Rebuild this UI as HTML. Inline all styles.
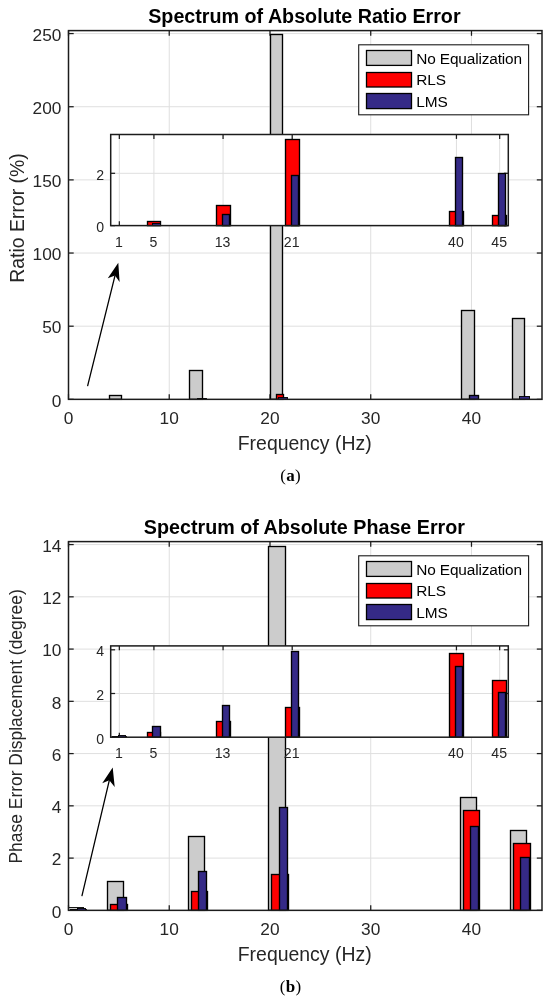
<!DOCTYPE html>
<html lang="en">
<head>
<meta charset="utf-8">
<title>Spectrum of Absolute Ratio and Phase Error</title>
<style>
html,body{margin:0;padding:0;background:#ffffff;}
body{width:550px;height:1000px;overflow:hidden;}
svg{display:block;font-family:"Liberation Sans",sans-serif;}
</style>
</head>
<body>
<svg width="550" height="1000" viewBox="0 0 550 1000" role="img" aria-label="Spectrum of absolute ratio error and phase error">
<rect x="0" y="0" width="550" height="1000" fill="#ffffff"/>
<g>
<line x1="169.24" y1="30.6" x2="169.24" y2="399.35" stroke="#dfdfdf" stroke-width="1"/>
<line x1="269.99" y1="30.6" x2="269.99" y2="399.35" stroke="#dfdfdf" stroke-width="1"/>
<line x1="370.73" y1="30.6" x2="370.73" y2="399.35" stroke="#dfdfdf" stroke-width="1"/>
<line x1="471.48" y1="30.6" x2="471.48" y2="399.35" stroke="#dfdfdf" stroke-width="1"/>
<line x1="68.5" y1="326.2" x2="542" y2="326.2" stroke="#dfdfdf" stroke-width="1"/>
<line x1="68.5" y1="253.04" x2="542" y2="253.04" stroke="#dfdfdf" stroke-width="1"/>
<line x1="68.5" y1="179.89" x2="542" y2="179.89" stroke="#dfdfdf" stroke-width="1"/>
<line x1="68.5" y1="106.73" x2="542" y2="106.73" stroke="#dfdfdf" stroke-width="1"/>
<line x1="68.5" y1="33.57" x2="542" y2="33.57" stroke="#dfdfdf" stroke-width="1"/>
<line x1="68.5" y1="399.35" x2="68.5" y2="394.15" stroke="#1c1c1c" stroke-width="1.25"/>
<line x1="68.5" y1="30.6" x2="68.5" y2="35.8" stroke="#1c1c1c" stroke-width="1.25"/>
<line x1="169.24" y1="399.35" x2="169.24" y2="394.15" stroke="#1c1c1c" stroke-width="1.25"/>
<line x1="169.24" y1="30.6" x2="169.24" y2="35.8" stroke="#1c1c1c" stroke-width="1.25"/>
<line x1="269.99" y1="399.35" x2="269.99" y2="394.15" stroke="#1c1c1c" stroke-width="1.25"/>
<line x1="269.99" y1="30.6" x2="269.99" y2="35.8" stroke="#1c1c1c" stroke-width="1.25"/>
<line x1="370.73" y1="399.35" x2="370.73" y2="394.15" stroke="#1c1c1c" stroke-width="1.25"/>
<line x1="370.73" y1="30.6" x2="370.73" y2="35.8" stroke="#1c1c1c" stroke-width="1.25"/>
<line x1="471.48" y1="399.35" x2="471.48" y2="394.15" stroke="#1c1c1c" stroke-width="1.25"/>
<line x1="471.48" y1="30.6" x2="471.48" y2="35.8" stroke="#1c1c1c" stroke-width="1.25"/>
<line x1="68.5" y1="399.35" x2="73.7" y2="399.35" stroke="#1c1c1c" stroke-width="1.25"/>
<line x1="542" y1="399.35" x2="536.8" y2="399.35" stroke="#1c1c1c" stroke-width="1.25"/>
<line x1="68.5" y1="326.2" x2="73.7" y2="326.2" stroke="#1c1c1c" stroke-width="1.25"/>
<line x1="542" y1="326.2" x2="536.8" y2="326.2" stroke="#1c1c1c" stroke-width="1.25"/>
<line x1="68.5" y1="253.04" x2="73.7" y2="253.04" stroke="#1c1c1c" stroke-width="1.25"/>
<line x1="542" y1="253.04" x2="536.8" y2="253.04" stroke="#1c1c1c" stroke-width="1.25"/>
<line x1="68.5" y1="179.89" x2="73.7" y2="179.89" stroke="#1c1c1c" stroke-width="1.25"/>
<line x1="542" y1="179.89" x2="536.8" y2="179.89" stroke="#1c1c1c" stroke-width="1.25"/>
<line x1="68.5" y1="106.73" x2="73.7" y2="106.73" stroke="#1c1c1c" stroke-width="1.25"/>
<line x1="542" y1="106.73" x2="536.8" y2="106.73" stroke="#1c1c1c" stroke-width="1.25"/>
<line x1="68.5" y1="33.57" x2="73.7" y2="33.57" stroke="#1c1c1c" stroke-width="1.25"/>
<line x1="542" y1="33.57" x2="536.8" y2="33.57" stroke="#1c1c1c" stroke-width="1.25"/>
<rect x="109.5" y="395.5" width="12" height="3.85" fill="#cccccc" stroke="#000000" stroke-width="1.35"/>
<rect x="189.5" y="370.5" width="13" height="28.85" fill="#cccccc" stroke="#000000" stroke-width="1.35"/>
<rect x="270.5" y="34.5" width="12" height="364.85" fill="#cccccc" stroke="#000000" stroke-width="1.35"/>
<rect x="461.5" y="310.5" width="13" height="88.85" fill="#cccccc" stroke="#000000" stroke-width="1.35"/>
<rect x="512.5" y="318.5" width="12" height="80.85" fill="#cccccc" stroke="#000000" stroke-width="1.35"/>
<rect x="276.5" y="394.5" width="7" height="4.85" fill="#ff0000" stroke="#000000" stroke-width="1.35"/>
<rect x="197.5" y="398.5" width="9" height="0.85" fill="#352a87" stroke="#000000" stroke-width="0.9"/>
<rect x="278.5" y="397.5" width="9" height="1.85" fill="#352a87" stroke="#000000" stroke-width="0.9"/>
<rect x="469.5" y="395.5" width="9" height="3.85" fill="#352a87" stroke="#000000" stroke-width="1.35"/>
<rect x="519.5" y="396.5" width="10" height="2.85" fill="#352a87" stroke="#000000" stroke-width="0.9"/>
<rect x="68.5" y="30.6" width="473.5" height="368.75" fill="none" stroke="#1c1c1c" stroke-width="1.5"/>
<text x="68.5" y="424.35" font-size="17.3" text-anchor="middle" fill="#262626">0</text>
<text x="169.24" y="424.35" font-size="17.3" text-anchor="middle" fill="#262626">10</text>
<text x="269.99" y="424.35" font-size="17.3" text-anchor="middle" fill="#262626">20</text>
<text x="370.73" y="424.35" font-size="17.3" text-anchor="middle" fill="#262626">30</text>
<text x="471.48" y="424.35" font-size="17.3" text-anchor="middle" fill="#262626">40</text>
<text x="61.4" y="406.55" font-size="17.3" text-anchor="end" fill="#262626">0</text>
<text x="61.4" y="333.4" font-size="17.3" text-anchor="end" fill="#262626">50</text>
<text x="61.4" y="260.24" font-size="17.3" text-anchor="end" fill="#262626">100</text>
<text x="61.4" y="187.09" font-size="17.3" text-anchor="end" fill="#262626">150</text>
<text x="61.4" y="113.93" font-size="17.3" text-anchor="end" fill="#262626">200</text>
<text x="61.4" y="40.77" font-size="17.3" text-anchor="end" fill="#262626">250</text>
<text x="304.4" y="22.6" font-size="19.72" text-anchor="middle" font-weight="bold" fill="#000000">Spectrum of Absolute Ratio Error</text>
<text x="304.7" y="450.15" font-size="19.46" text-anchor="middle" fill="#262626">Frequency (Hz)</text>
<text x="0" y="0" font-size="19.46" text-anchor="middle" fill="#262626" transform="translate(23.5 217.98) rotate(-90)">Ratio Error (%)</text>
<rect x="358.7" y="44.8" width="169.9" height="70" fill="#ffffff" stroke="#1a1a1a" stroke-width="1.1"/>
<rect x="366.5" y="50.5" width="45" height="14.9" fill="#cccccc" stroke="#000000" stroke-width="1.3"/>
<text x="416.3" y="63.8" font-size="15.4" text-anchor="start" fill="#000000" letter-spacing="-0.15">No Equalization</text>
<rect x="366.5" y="72.5" width="45" height="14.5" fill="#ff0000" stroke="#000000" stroke-width="1.3"/>
<text x="416.3" y="85.4" font-size="15.4" text-anchor="start" fill="#000000" letter-spacing="-0.15">RLS</text>
<rect x="366.5" y="93.5" width="45" height="15.1" fill="#352a87" stroke="#000000" stroke-width="1.3"/>
<text x="416.3" y="107" font-size="15.4" text-anchor="start" fill="#000000" letter-spacing="-0.15">LMS</text>
<rect x="110.7" y="134.5" width="397.6" height="91.1" fill="#ffffff"/>
<line x1="119.34" y1="134.5" x2="119.34" y2="225.6" stroke="#dfdfdf" stroke-width="1"/>
<line x1="153.92" y1="134.5" x2="153.92" y2="225.6" stroke="#dfdfdf" stroke-width="1"/>
<line x1="223.07" y1="134.5" x2="223.07" y2="225.6" stroke="#dfdfdf" stroke-width="1"/>
<line x1="292.21" y1="134.5" x2="292.21" y2="225.6" stroke="#dfdfdf" stroke-width="1"/>
<line x1="456.44" y1="134.5" x2="456.44" y2="225.6" stroke="#dfdfdf" stroke-width="1"/>
<line x1="499.66" y1="134.5" x2="499.66" y2="225.6" stroke="#dfdfdf" stroke-width="1"/>
<line x1="110.7" y1="173.3" x2="508.3" y2="173.3" stroke="#dfdfdf" stroke-width="1"/>
<line x1="119.34" y1="225.6" x2="119.34" y2="221.2" stroke="#1c1c1c" stroke-width="1.25"/>
<line x1="119.34" y1="134.5" x2="119.34" y2="138.9" stroke="#1c1c1c" stroke-width="1.25"/>
<line x1="153.92" y1="225.6" x2="153.92" y2="221.2" stroke="#1c1c1c" stroke-width="1.25"/>
<line x1="153.92" y1="134.5" x2="153.92" y2="138.9" stroke="#1c1c1c" stroke-width="1.25"/>
<line x1="223.07" y1="225.6" x2="223.07" y2="221.2" stroke="#1c1c1c" stroke-width="1.25"/>
<line x1="223.07" y1="134.5" x2="223.07" y2="138.9" stroke="#1c1c1c" stroke-width="1.25"/>
<line x1="292.21" y1="225.6" x2="292.21" y2="221.2" stroke="#1c1c1c" stroke-width="1.25"/>
<line x1="292.21" y1="134.5" x2="292.21" y2="138.9" stroke="#1c1c1c" stroke-width="1.25"/>
<line x1="456.44" y1="225.6" x2="456.44" y2="221.2" stroke="#1c1c1c" stroke-width="1.25"/>
<line x1="456.44" y1="134.5" x2="456.44" y2="138.9" stroke="#1c1c1c" stroke-width="1.25"/>
<line x1="499.66" y1="225.6" x2="499.66" y2="221.2" stroke="#1c1c1c" stroke-width="1.25"/>
<line x1="499.66" y1="134.5" x2="499.66" y2="138.9" stroke="#1c1c1c" stroke-width="1.25"/>
<line x1="110.7" y1="225.6" x2="115.1" y2="225.6" stroke="#1c1c1c" stroke-width="1.25"/>
<line x1="508.3" y1="225.6" x2="503.9" y2="225.6" stroke="#1c1c1c" stroke-width="1.25"/>
<line x1="110.7" y1="173.3" x2="115.1" y2="173.3" stroke="#1c1c1c" stroke-width="1.25"/>
<line x1="508.3" y1="173.3" x2="503.9" y2="173.3" stroke="#1c1c1c" stroke-width="1.25"/>
<rect x="147.5" y="221.5" width="13" height="4.1" fill="#ff0000" stroke="#000000" stroke-width="1.35"/>
<rect x="216.5" y="205.5" width="14" height="20.1" fill="#ff0000" stroke="#000000" stroke-width="1.35"/>
<rect x="285.5" y="139.5" width="14" height="86.1" fill="#ff0000" stroke="#000000" stroke-width="1.35"/>
<rect x="449.5" y="211.5" width="14" height="14.1" fill="#ff0000" stroke="#000000" stroke-width="1.35"/>
<rect x="492.5" y="215.5" width="14" height="10.1" fill="#ff0000" stroke="#000000" stroke-width="1.35"/>
<rect x="152.5" y="223.5" width="8" height="2.1" fill="#352a87" stroke="#000000" stroke-width="0.9"/>
<rect x="222.5" y="214.5" width="7" height="11.1" fill="#352a87" stroke="#000000" stroke-width="1.35"/>
<rect x="291.5" y="175.5" width="7" height="50.1" fill="#352a87" stroke="#000000" stroke-width="1.35"/>
<rect x="455.5" y="157.5" width="7" height="68.1" fill="#352a87" stroke="#000000" stroke-width="1.35"/>
<rect x="498.5" y="173.5" width="7" height="52.1" fill="#352a87" stroke="#000000" stroke-width="1.35"/>
<rect x="110.7" y="134.5" width="397.6" height="91.1" fill="none" stroke="#1c1c1c" stroke-width="1.5"/>
<text x="118.84" y="246.6" font-size="14.1" text-anchor="middle" fill="#262626">1</text>
<text x="153.42" y="246.6" font-size="14.1" text-anchor="middle" fill="#262626">5</text>
<text x="222.57" y="246.6" font-size="14.1" text-anchor="middle" fill="#262626">13</text>
<text x="291.71" y="246.6" font-size="14.1" text-anchor="middle" fill="#262626">21</text>
<text x="455.94" y="246.6" font-size="14.1" text-anchor="middle" fill="#262626">40</text>
<text x="499.16" y="246.6" font-size="14.1" text-anchor="middle" fill="#262626">45</text>
<text x="104.2" y="232" font-size="14.1" text-anchor="end" fill="#262626">0</text>
<text x="104.2" y="179.7" font-size="14.1" text-anchor="end" fill="#262626">2</text>
<line x1="87.7" y1="385.7" x2="115" y2="275.6" stroke="#000000" stroke-width="1.3" stroke-linecap="round"/>
<polygon points="118.3,262.7 107.8,278.2 115,275.6 119.6,282" fill="#000000"/>
<text x="290.6" y="480.95" font-family="'Liberation Serif', 'DejaVu Serif', serif" font-size="17" letter-spacing="0.3" text-anchor="middle" fill="#000000">(<tspan font-weight="bold">a</tspan>)</text>
</g>
<g>
<line x1="169.24" y1="541.6" x2="169.24" y2="910.35" stroke="#dfdfdf" stroke-width="1"/>
<line x1="269.99" y1="541.6" x2="269.99" y2="910.35" stroke="#dfdfdf" stroke-width="1"/>
<line x1="370.73" y1="541.6" x2="370.73" y2="910.35" stroke="#dfdfdf" stroke-width="1"/>
<line x1="471.48" y1="541.6" x2="471.48" y2="910.35" stroke="#dfdfdf" stroke-width="1"/>
<line x1="68.5" y1="858.1" x2="542" y2="858.1" stroke="#dfdfdf" stroke-width="1"/>
<line x1="68.5" y1="805.84" x2="542" y2="805.84" stroke="#dfdfdf" stroke-width="1"/>
<line x1="68.5" y1="753.59" x2="542" y2="753.59" stroke="#dfdfdf" stroke-width="1"/>
<line x1="68.5" y1="701.33" x2="542" y2="701.33" stroke="#dfdfdf" stroke-width="1"/>
<line x1="68.5" y1="649.08" x2="542" y2="649.08" stroke="#dfdfdf" stroke-width="1"/>
<line x1="68.5" y1="596.83" x2="542" y2="596.83" stroke="#dfdfdf" stroke-width="1"/>
<line x1="68.5" y1="544.57" x2="542" y2="544.57" stroke="#dfdfdf" stroke-width="1"/>
<line x1="68.5" y1="910.35" x2="68.5" y2="905.15" stroke="#1c1c1c" stroke-width="1.25"/>
<line x1="68.5" y1="541.6" x2="68.5" y2="546.8" stroke="#1c1c1c" stroke-width="1.25"/>
<line x1="169.24" y1="910.35" x2="169.24" y2="905.15" stroke="#1c1c1c" stroke-width="1.25"/>
<line x1="169.24" y1="541.6" x2="169.24" y2="546.8" stroke="#1c1c1c" stroke-width="1.25"/>
<line x1="269.99" y1="910.35" x2="269.99" y2="905.15" stroke="#1c1c1c" stroke-width="1.25"/>
<line x1="269.99" y1="541.6" x2="269.99" y2="546.8" stroke="#1c1c1c" stroke-width="1.25"/>
<line x1="370.73" y1="910.35" x2="370.73" y2="905.15" stroke="#1c1c1c" stroke-width="1.25"/>
<line x1="370.73" y1="541.6" x2="370.73" y2="546.8" stroke="#1c1c1c" stroke-width="1.25"/>
<line x1="471.48" y1="910.35" x2="471.48" y2="905.15" stroke="#1c1c1c" stroke-width="1.25"/>
<line x1="471.48" y1="541.6" x2="471.48" y2="546.8" stroke="#1c1c1c" stroke-width="1.25"/>
<line x1="68.5" y1="910.35" x2="73.7" y2="910.35" stroke="#1c1c1c" stroke-width="1.25"/>
<line x1="542" y1="910.35" x2="536.8" y2="910.35" stroke="#1c1c1c" stroke-width="1.25"/>
<line x1="68.5" y1="858.1" x2="73.7" y2="858.1" stroke="#1c1c1c" stroke-width="1.25"/>
<line x1="542" y1="858.1" x2="536.8" y2="858.1" stroke="#1c1c1c" stroke-width="1.25"/>
<line x1="68.5" y1="805.84" x2="73.7" y2="805.84" stroke="#1c1c1c" stroke-width="1.25"/>
<line x1="542" y1="805.84" x2="536.8" y2="805.84" stroke="#1c1c1c" stroke-width="1.25"/>
<line x1="68.5" y1="753.59" x2="73.7" y2="753.59" stroke="#1c1c1c" stroke-width="1.25"/>
<line x1="542" y1="753.59" x2="536.8" y2="753.59" stroke="#1c1c1c" stroke-width="1.25"/>
<line x1="68.5" y1="701.33" x2="73.7" y2="701.33" stroke="#1c1c1c" stroke-width="1.25"/>
<line x1="542" y1="701.33" x2="536.8" y2="701.33" stroke="#1c1c1c" stroke-width="1.25"/>
<line x1="68.5" y1="649.08" x2="73.7" y2="649.08" stroke="#1c1c1c" stroke-width="1.25"/>
<line x1="542" y1="649.08" x2="536.8" y2="649.08" stroke="#1c1c1c" stroke-width="1.25"/>
<line x1="68.5" y1="596.83" x2="73.7" y2="596.83" stroke="#1c1c1c" stroke-width="1.25"/>
<line x1="542" y1="596.83" x2="536.8" y2="596.83" stroke="#1c1c1c" stroke-width="1.25"/>
<line x1="68.5" y1="544.57" x2="73.7" y2="544.57" stroke="#1c1c1c" stroke-width="1.25"/>
<line x1="542" y1="544.57" x2="536.8" y2="544.57" stroke="#1c1c1c" stroke-width="1.25"/>
<rect x="68.5" y="907.5" width="15" height="2.85" fill="#cccccc" stroke="#000000" stroke-width="0.9"/>
<rect x="107.5" y="881.5" width="16" height="28.85" fill="#cccccc" stroke="#000000" stroke-width="1.35"/>
<rect x="188.5" y="836.5" width="16" height="73.85" fill="#cccccc" stroke="#000000" stroke-width="1.35"/>
<rect x="268.5" y="546.5" width="17" height="363.85" fill="#cccccc" stroke="#000000" stroke-width="1.35"/>
<rect x="460.5" y="797.5" width="16" height="112.85" fill="#cccccc" stroke="#000000" stroke-width="1.35"/>
<rect x="510.5" y="830.5" width="16" height="79.85" fill="#cccccc" stroke="#000000" stroke-width="1.35"/>
<rect x="70.5" y="909.5" width="16" height="0.85" fill="#ff0000" stroke="#000000" stroke-width="0.9"/>
<rect x="110.5" y="904.5" width="17" height="5.85" fill="#ff0000" stroke="#000000" stroke-width="1.35"/>
<rect x="191.5" y="891.5" width="16" height="18.85" fill="#ff0000" stroke="#000000" stroke-width="1.35"/>
<rect x="271.5" y="874.5" width="17" height="35.85" fill="#ff0000" stroke="#000000" stroke-width="1.35"/>
<rect x="463.5" y="810.5" width="16" height="99.85" fill="#ff0000" stroke="#000000" stroke-width="1.35"/>
<rect x="513.5" y="843.5" width="17" height="66.85" fill="#ff0000" stroke="#000000" stroke-width="1.35"/>
<rect x="77.5" y="908.5" width="8" height="1.85" fill="#352a87" stroke="#000000" stroke-width="0.9"/>
<rect x="117.5" y="897.5" width="9" height="12.85" fill="#352a87" stroke="#000000" stroke-width="1.35"/>
<rect x="198.5" y="871.5" width="8" height="38.85" fill="#352a87" stroke="#000000" stroke-width="1.35"/>
<rect x="279.5" y="807.5" width="8" height="102.85" fill="#352a87" stroke="#000000" stroke-width="1.35"/>
<rect x="470.5" y="826.5" width="8" height="83.85" fill="#352a87" stroke="#000000" stroke-width="1.35"/>
<rect x="520.5" y="857.5" width="9" height="52.85" fill="#352a87" stroke="#000000" stroke-width="1.35"/>
<rect x="68.5" y="541.6" width="473.5" height="368.75" fill="none" stroke="#1c1c1c" stroke-width="1.5"/>
<text x="68.5" y="935.35" font-size="17.3" text-anchor="middle" fill="#262626">0</text>
<text x="169.24" y="935.35" font-size="17.3" text-anchor="middle" fill="#262626">10</text>
<text x="269.99" y="935.35" font-size="17.3" text-anchor="middle" fill="#262626">20</text>
<text x="370.73" y="935.35" font-size="17.3" text-anchor="middle" fill="#262626">30</text>
<text x="471.48" y="935.35" font-size="17.3" text-anchor="middle" fill="#262626">40</text>
<text x="61.4" y="917.55" font-size="17.3" text-anchor="end" fill="#262626">0</text>
<text x="61.4" y="865.3" font-size="17.3" text-anchor="end" fill="#262626">2</text>
<text x="61.4" y="813.04" font-size="17.3" text-anchor="end" fill="#262626">4</text>
<text x="61.4" y="760.79" font-size="17.3" text-anchor="end" fill="#262626">6</text>
<text x="61.4" y="708.53" font-size="17.3" text-anchor="end" fill="#262626">8</text>
<text x="61.4" y="656.28" font-size="17.3" text-anchor="end" fill="#262626">10</text>
<text x="61.4" y="604.03" font-size="17.3" text-anchor="end" fill="#262626">12</text>
<text x="61.4" y="551.77" font-size="17.3" text-anchor="end" fill="#262626">14</text>
<text x="304.4" y="533.6" font-size="19.72" text-anchor="middle" font-weight="bold" fill="#000000">Spectrum of Absolute Phase Error</text>
<text x="304.7" y="961.15" font-size="19.46" text-anchor="middle" fill="#262626">Frequency (Hz)</text>
<text x="0" y="0" font-size="17.45" text-anchor="middle" fill="#262626" transform="translate(22.4 726.38) rotate(-90)">Phase Error Displacement (degree)</text>
<rect x="358.7" y="555.8" width="169.9" height="70" fill="#ffffff" stroke="#1a1a1a" stroke-width="1.1"/>
<rect x="366.5" y="561.5" width="45" height="14.9" fill="#cccccc" stroke="#000000" stroke-width="1.3"/>
<text x="416.3" y="574.8" font-size="15.4" text-anchor="start" fill="#000000" letter-spacing="-0.15">No Equalization</text>
<rect x="366.5" y="583.5" width="45" height="14.5" fill="#ff0000" stroke="#000000" stroke-width="1.3"/>
<text x="416.3" y="596.4" font-size="15.4" text-anchor="start" fill="#000000" letter-spacing="-0.15">RLS</text>
<rect x="366.5" y="604.5" width="45" height="15.1" fill="#352a87" stroke="#000000" stroke-width="1.3"/>
<text x="416.3" y="618" font-size="15.4" text-anchor="start" fill="#000000" letter-spacing="-0.15">LMS</text>
<rect x="110.7" y="645.9" width="397.6" height="91.3" fill="#ffffff"/>
<line x1="119.34" y1="645.9" x2="119.34" y2="737.2" stroke="#dfdfdf" stroke-width="1"/>
<line x1="153.92" y1="645.9" x2="153.92" y2="737.2" stroke="#dfdfdf" stroke-width="1"/>
<line x1="223.07" y1="645.9" x2="223.07" y2="737.2" stroke="#dfdfdf" stroke-width="1"/>
<line x1="292.21" y1="645.9" x2="292.21" y2="737.2" stroke="#dfdfdf" stroke-width="1"/>
<line x1="456.44" y1="645.9" x2="456.44" y2="737.2" stroke="#dfdfdf" stroke-width="1"/>
<line x1="499.66" y1="645.9" x2="499.66" y2="737.2" stroke="#dfdfdf" stroke-width="1"/>
<line x1="110.7" y1="693.5" x2="508.3" y2="693.5" stroke="#dfdfdf" stroke-width="1"/>
<line x1="110.7" y1="649.8" x2="508.3" y2="649.8" stroke="#dfdfdf" stroke-width="1"/>
<line x1="119.34" y1="737.2" x2="119.34" y2="732.8" stroke="#1c1c1c" stroke-width="1.25"/>
<line x1="119.34" y1="645.9" x2="119.34" y2="650.3" stroke="#1c1c1c" stroke-width="1.25"/>
<line x1="153.92" y1="737.2" x2="153.92" y2="732.8" stroke="#1c1c1c" stroke-width="1.25"/>
<line x1="153.92" y1="645.9" x2="153.92" y2="650.3" stroke="#1c1c1c" stroke-width="1.25"/>
<line x1="223.07" y1="737.2" x2="223.07" y2="732.8" stroke="#1c1c1c" stroke-width="1.25"/>
<line x1="223.07" y1="645.9" x2="223.07" y2="650.3" stroke="#1c1c1c" stroke-width="1.25"/>
<line x1="292.21" y1="737.2" x2="292.21" y2="732.8" stroke="#1c1c1c" stroke-width="1.25"/>
<line x1="292.21" y1="645.9" x2="292.21" y2="650.3" stroke="#1c1c1c" stroke-width="1.25"/>
<line x1="456.44" y1="737.2" x2="456.44" y2="732.8" stroke="#1c1c1c" stroke-width="1.25"/>
<line x1="456.44" y1="645.9" x2="456.44" y2="650.3" stroke="#1c1c1c" stroke-width="1.25"/>
<line x1="499.66" y1="737.2" x2="499.66" y2="732.8" stroke="#1c1c1c" stroke-width="1.25"/>
<line x1="499.66" y1="645.9" x2="499.66" y2="650.3" stroke="#1c1c1c" stroke-width="1.25"/>
<line x1="110.7" y1="737.2" x2="115.1" y2="737.2" stroke="#1c1c1c" stroke-width="1.25"/>
<line x1="508.3" y1="737.2" x2="503.9" y2="737.2" stroke="#1c1c1c" stroke-width="1.25"/>
<line x1="110.7" y1="693.5" x2="115.1" y2="693.5" stroke="#1c1c1c" stroke-width="1.25"/>
<line x1="508.3" y1="693.5" x2="503.9" y2="693.5" stroke="#1c1c1c" stroke-width="1.25"/>
<line x1="110.7" y1="649.8" x2="115.1" y2="649.8" stroke="#1c1c1c" stroke-width="1.25"/>
<line x1="508.3" y1="649.8" x2="503.9" y2="649.8" stroke="#1c1c1c" stroke-width="1.25"/>
<rect x="112.5" y="736.5" width="14" height="0.7" fill="#ff0000" stroke="#000000" stroke-width="0.9"/>
<rect x="147.5" y="732.5" width="13" height="4.7" fill="#ff0000" stroke="#000000" stroke-width="1.35"/>
<rect x="216.5" y="721.5" width="14" height="15.7" fill="#ff0000" stroke="#000000" stroke-width="1.35"/>
<rect x="285.5" y="707.5" width="14" height="29.7" fill="#ff0000" stroke="#000000" stroke-width="1.35"/>
<rect x="449.5" y="653.5" width="14" height="83.7" fill="#ff0000" stroke="#000000" stroke-width="1.35"/>
<rect x="492.5" y="680.5" width="14" height="56.7" fill="#ff0000" stroke="#000000" stroke-width="1.35"/>
<rect x="118.5" y="735.5" width="7" height="1.7" fill="#352a87" stroke="#000000" stroke-width="0.9"/>
<rect x="152.5" y="726.5" width="8" height="10.7" fill="#352a87" stroke="#000000" stroke-width="1.35"/>
<rect x="222.5" y="705.5" width="7" height="31.7" fill="#352a87" stroke="#000000" stroke-width="1.35"/>
<rect x="291.5" y="651.5" width="7" height="85.7" fill="#352a87" stroke="#000000" stroke-width="1.35"/>
<rect x="455.5" y="666.5" width="7" height="70.7" fill="#352a87" stroke="#000000" stroke-width="1.35"/>
<rect x="498.5" y="692.5" width="7" height="44.7" fill="#352a87" stroke="#000000" stroke-width="1.35"/>
<rect x="110.7" y="645.9" width="397.6" height="91.3" fill="none" stroke="#1c1c1c" stroke-width="1.5"/>
<text x="118.84" y="758.2" font-size="14.1" text-anchor="middle" fill="#262626">1</text>
<text x="153.42" y="758.2" font-size="14.1" text-anchor="middle" fill="#262626">5</text>
<text x="222.57" y="758.2" font-size="14.1" text-anchor="middle" fill="#262626">13</text>
<text x="291.71" y="758.2" font-size="14.1" text-anchor="middle" fill="#262626">21</text>
<text x="455.94" y="758.2" font-size="14.1" text-anchor="middle" fill="#262626">40</text>
<text x="499.16" y="758.2" font-size="14.1" text-anchor="middle" fill="#262626">45</text>
<text x="104.2" y="743.6" font-size="14.1" text-anchor="end" fill="#262626">0</text>
<text x="104.2" y="699.9" font-size="14.1" text-anchor="end" fill="#262626">2</text>
<text x="104.2" y="656.2" font-size="14.1" text-anchor="end" fill="#262626">4</text>
<line x1="82" y1="895.7" x2="109.3" y2="780.3" stroke="#000000" stroke-width="1.3" stroke-linecap="round"/>
<polygon points="112.7,767.5 102.2,783.2 109.3,780.3 114.7,787" fill="#000000"/>
<text x="290.6" y="991.95" font-family="'Liberation Serif', 'DejaVu Serif', serif" font-size="17" letter-spacing="0.3" text-anchor="middle" fill="#000000">(<tspan font-weight="bold">b</tspan>)</text>
</g>
</svg>
</body>
</html>
